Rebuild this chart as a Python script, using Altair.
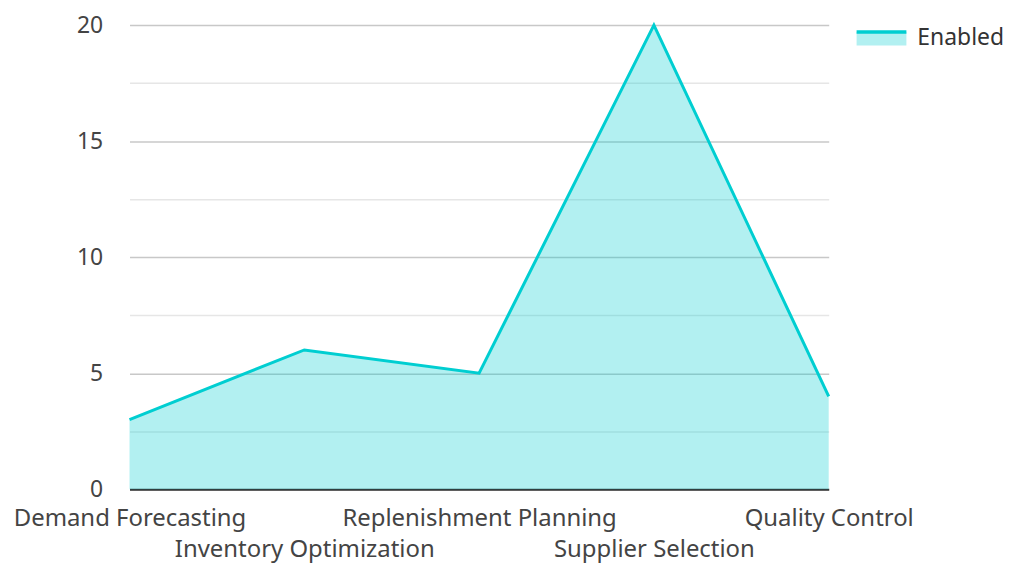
import altair as alt
import pandas as pd

categories = ["Demand Forecasting", "Inventory Optimization", "Replenishment Planning", "Supplier Selection", "Quality Control"]
values = [3, 6, 5, 20, 4]
series = ["Enabled"] * len(categories)

df = pd.DataFrame({"category": categories, "value": values, "series": series})

LINE = "#00CED1"
FONT = "Noto Sans"

second_row = [c for i, c in enumerate(categories) if i % 2 == 1]
arr = "[" + ",".join("'" + c + "'" for c in second_row) + "]"
label_expr = f"indexof({arr}, datum.value) >= 0 ? ['', datum.label] : datum.label"

x = alt.X("category:N", sort=categories, title=None,
          scale=alt.Scale(type="point", padding=0),
          axis=alt.Axis(labelAngle=0, labelExpr=label_expr, labelOverlap=False,
                        labelLineHeight=32, labelPadding=17, ticks=False,
                        labelLimit=0, labelFontSize=24,
                        domainColor="#333333", domainWidth=2, grid=False,
                        labelBaseline="top"))
y = alt.Y("value:Q", title=None,
          scale=alt.Scale(domain=[0, 20], nice=False),
          axis=alt.Axis(values=[0, 2.5, 5, 7.5, 10, 12.5, 15, 17.5, 20],
                        labelExpr="datum.value % 5 === 0 ? datum.label : ''",
                        ticks=False, domain=False, labelPadding=27, labelFontSize=23,
                        gridColor={"condition": {"test": "datum.value % 5 === 0", "value": "#c8c8c8"}, "value": "#e6e6e6"},
                        gridWidth=1.5))

color = alt.Color("series:N", title=None,
                  scale=alt.Scale(domain=["Enabled"], range=[LINE]),
                  legend=alt.Legend(orient="none", legendX=728, legendY=-14, padding=0,
                                    symbolType="M-1,-0.24L1,-0.24L1,0.3L-1,0.3Z",
                                    symbolSize=2500, symbolFillColor="#B2F0F1",
                                    symbolStrokeColor=LINE, symbolStrokeWidth=3.5,
                                    symbolOpacity=1,
                                    symbolDash=[50, 400], labelFontSize=23,
                                    labelOffset=9, labelColor="#333333"))

area = alt.Chart(df).mark_area(color=LINE, opacity=0.3).encode(x=x, y=y)
line = alt.Chart(df).mark_line(strokeWidth=3).encode(x=x, y=y, color=color)

chart = (area + line).properties(
    width=702, height=466,
    padding={"left": 5, "top": 2, "right": 0, "bottom": 0},
).configure_axis(
    labelFont=FONT, labelColor="#444444"
).configure_legend(labelFont=FONT).configure_view(stroke=None)

chart.save("out.html", embed_options={"renderer": "svg", "actions": False})
